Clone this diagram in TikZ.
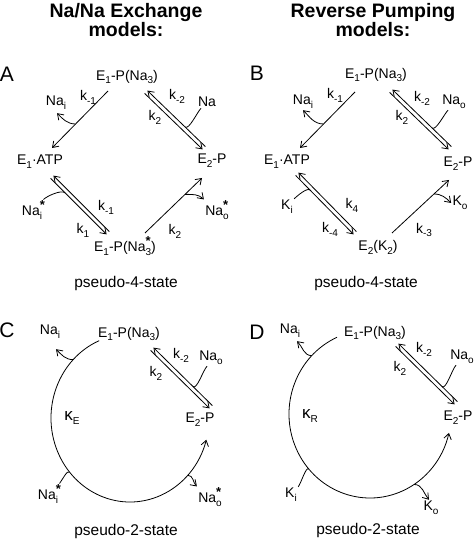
\documentclass[tikz,border=0pt]{standalone}
\usepackage{fontspec}
\setmainfont{Liberation Sans}
\usetikzlibrary{arrows.meta}
\newcommand{\sbs}[1]{\raisebox{-0.28em}{\fontsize{10}{10}\selectfont #1}}
\newcommand{\sbsp}[2]{\rlap{\raisebox{0.38em}{\fontsize{13}{13}\selectfont\bfseries #2}}\raisebox{-0.28em}{\fontsize{10}{10}\selectfont #1}}
\newcommand{\kap}{{\fontsize{17}{17}\selectfont κ}}

\begin{document}
\begin{tikzpicture}
  [x=1pt,y=1pt,line width=0.8pt,>={Straight Barb[length=5.5pt,width=7.5pt]},
   every node/.style={inner sep=1pt,font=\fontsize{14}{16}\selectfont},
   title/.style={font=\fontsize{19.5}{18}\selectfont\bfseries,align=center},
   panel/.style={font=\fontsize{21}{21}\selectfont},
   note/.style={font=\fontsize{15.5}{17}\selectfont},
   bind/.style={looseness=0.55}]
  \useasboundingbox (0,0) rectangle (474,539);
  \node[title] (tA) at (126,519) {Na/Na Exchange\\models:};
  \node[title] (tB) at (373,519) {Reverse Pumping\\models:};

  % A
  \node[panel] (pA) at (7,465) {A};
  \node (a1) at (127,462) {E\sbs{1}-P(Na\sbs{3})};
  \node (a2) at (40,377) {E\sbs{1}·ATP};
  \node (a3) at (125,293) {E\sbs{1}-P(Na\sbsp{3}{*})};
  \node (a4) at (212,378) {E\sbs{2}-P};
  \node (ka1) at (88,442) {k\sbs{-1}};
  \node (nai1) at (56,436) {Na\sbs{i}};
  \node (ka2) at (177,443) {k\sbs{-2}};
  \node (ka3) at (155,422) {k\sbs{2}};
  \node (nao1) at (207,437) {Na};
  \node (nai2) at (32,329) {Na\sbsp{i}{*}};
  \node (ka4) at (106,332) {k\sbs{-1}};
  \node (ka5) at (83,309) {k\sbs{1}};
  \node (nao2) at (217,329) {Na\sbsp{o}{*}};
  \node (ka6) at (175,308) {k\sbs{2}};
  \node[note] (ps1) at (126,256) {pseudo-4-state};
  \draw[->] ([shift={(-19,-14)}]a1.center) -- ([shift={(12,14)}]a2.center);
  \draw[<-] ([shift={(20.4,-13.6)}]a1.center) -- ([shift={(-6.6,14.4)}]a4.center);
  \draw[->] ([shift={(17.6,-16.4)}]a1.center) -- ([shift={(-9.4,11.6)}]a4.center);
  \draw[<-] ([shift={(13.4,-13.6)}]a2.center) -- ([shift={(-15.6,14.4)}]a3.center);
  \draw[->] ([shift={(10.6,-16.4)}]a2.center) -- ([shift={(-18.4,11.6)}]a3.center);
  \draw[->] ([shift={(20,13)}]a3.center) -- ([shift={(-10,-17)}]a4.center);
  \coordinate (xa1) at (75.6,415);
  \coordinate (xa2) at (185,412.1);
  \coordinate (xa3) at (65,346.2);
  \coordinate (xa4) at (185,344.6);
  \draw[->] (xa1) to[out=180,in=-45] ([shift={(1,-2)}]nai1.south);
  \draw[bind] (xa2) to[out=-44,in=225] ([xshift=-6]nao1.south);
  \draw[bind] (nai2.north east) to[out=45,in=136] (xa3);
  \draw[->] (xa4) to[out=0,in=135] (nao2.north west);

  % B
  \node[panel] (pB) at (257,466) {B};
  \node (b1) at (376,464) {E\sbs{1}-P(Na\sbs{3})};
  \node (b2) at (287,377) {E\sbs{1}·ATP};
  \node (b3) at (378,292) {E\sbs{2}(K\sbs{2})};
  \node (b4) at (458,375) {E\sbs{2}-P};
  \node (kb1) at (335,444) {k\sbs{-1}};
  \node (nai3) at (303,437) {Na\sbs{i}};
  \node (kb2) at (422,441) {k\sbs{-2}};
  \node (kb3) at (402,422) {k\sbs{2}};
  \node (nao3) at (454,437) {Na\sbs{o}};
  \node (ki1) at (287,332) {K\sbs{i}};
  \node (kb4) at (352,334) {k\sbs{4}};
  \node (kb5) at (330,310) {k\sbs{-4}};
  \node (ko1) at (460,336) {K\sbs{o}};
  \node (kb6) at (424,309) {k\sbs{-3}};
  \node[note] (ps2) at (366,256) {pseudo-4-state};
  \draw[->] ([shift={(-21,-17)}]b1.center) -- ([shift={(13,14)}]b2.center);
  \draw[<-] ([shift={(16.4,-14.6)}]b1.center) -- ([shift={(-6.6,17.4)}]b4.center);
  \draw[->] ([shift={(13.6,-17.4)}]b1.center) -- ([shift={(-9.4,14.6)}]b4.center);
  \draw[<-] ([shift={(11.4,-10.6)}]b2.center) -- ([shift={(-21.6,15.4)}]b3.center);
  \draw[->] ([shift={(8.6,-13.4)}]b2.center) -- ([shift={(-24.4,12.6)}]b3.center);
  \draw[->] ([shift={(14,14)}]b3.center) -- ([shift={(-9,-16)}]b4.center);
  \coordinate (xb1) at (323.6,415);
  \coordinate (xb2) at (432,411.1);
  \coordinate (xb3) at (310,349);
  \coordinate (xb4) at (434,345);
  \draw[->] (xb1) to[out=180,in=-45] (nai3.south);
  \draw[bind] (xb2) to[out=-44,in=225] ([xshift=-6]nao3.south);
  \draw[bind] (ki1.north east) to[out=45,in=136] (xb3);
  \draw[->] (xb4) to[out=0,in=135] (ko1.west);

  % C
  \node[panel] (pC) at (7,209) {C};
  \node (c1) at (129,205) {E\sbs{1}-P(Na\sbs{3})};
  \node (c4) at (200,119) {E\sbs{2}-P};
  \node (kc1) at (181,184) {k\sbs{-2}};
  \node (kc2) at (156,166) {k\sbs{2}};
  \node (nao5) at (211,181) {Na\sbs{o}};
  \node (nai5) at (50,207) {Na\sbs{i}};
  \node (kE) at (72,121) {\kap\sbs{E}};
  \node (nai6) at (48,45) {Na\sbsp{i}{*}};
  \node (nao6) at (210,42) {Na\sbsp{o}{*}};
  \node[note] (ps3) at (126,8) {pseudo-2-state};
  \coordinate (cc) at (130,121);
  \draw[->] ([shift={(113:79 and 84)}]cc) arc[start angle=113,end angle=345,x radius=79,y radius=84];
  \draw[<-] ([shift={(24.4,-13.6)}]c1.center) -- ([shift={(12.4,14.4)}]c4.center);
  \draw[->] ([shift={(21.6,-16.4)}]c1.center) -- ([shift={(9.6,11.6)}]c4.center);
  \coordinate (xc1) at ([shift={(136:79 and 84)}]cc);
  \coordinate (xc2) at (193,152.5);
  \coordinate (xc3) at ([shift={(220:79 and 84)}]cc);
  \coordinate (xc4) at ([shift={(317:79 and 84)}]cc);
  \draw[->] (xc1) to[out=180,in=-45] ([shift={(6,-9)}]nai5.south);
  \draw[bind] (xc2) to[out=-44,in=225] ([xshift=-4]nao5.south);
  \draw[bind] (nai6.north east) to[out=50,in=128] (xc3);
  \draw[->] (xc4) to[out=0,in=135] (nao6.north west);

  % D
  \node[panel] (pD) at (257,207) {D};
  \node (d1) at (375,206) {E\sbs{1}-P(Na\sbs{3})};
  \node (d4) at (458,121) {E\sbs{2}-P};
  \node (kd1) at (424,190) {k\sbs{-2}};
  \node (kd2) at (400,171) {k\sbs{2}};
  \node (nao7) at (462,182) {Na\sbs{o}};
  \node (nai7) at (290,208) {Na\sbs{i}};
  \node (kR) at (310,123) {\kap\sbs{R}};
  \node (ki2) at (291,44) {K\sbs{i}};
  \node (ko2) at (431,31) {K\sbs{o}};
  \node[note] (ps4) at (368,9) {pseudo-2-state};
  \coordinate (cd) at (370,125);
  \draw[->] ([shift={(114:81 and 84)}]cd) arc[start angle=114,end angle=347,x radius=81,y radius=84];
  \draw[<-] ([shift={(23.4,-10.6)}]d1.center) -- ([shift={(-0.6,16.4)}]d4.center);
  \draw[->] ([shift={(20.6,-13.4)}]d1.center) -- ([shift={(-3.4,13.6)}]d4.center);
  \coordinate (xd1) at ([shift={(136:81 and 84)}]cd);
  \coordinate (xd2) at (442,152.5);
  \coordinate (xd3) at ([shift={(221:81 and 84)}]cd);
  \coordinate (xd4) at ([shift={(303:81 and 84)}]cd);
  \draw[->] (xd1) to[out=180,in=-45] ([shift={(7,-2)}]nai7.south);
  \draw[bind] (xd2) to[out=-44,in=225] ([xshift=-6]nao7.south);
  \draw[bind] (ki2.north east) to[out=50,in=128] (xd3);
  \draw[->] (xd4) to[out=0,in=130] ([xshift=-2]ko2.north);
\end{tikzpicture}
\end{document}
